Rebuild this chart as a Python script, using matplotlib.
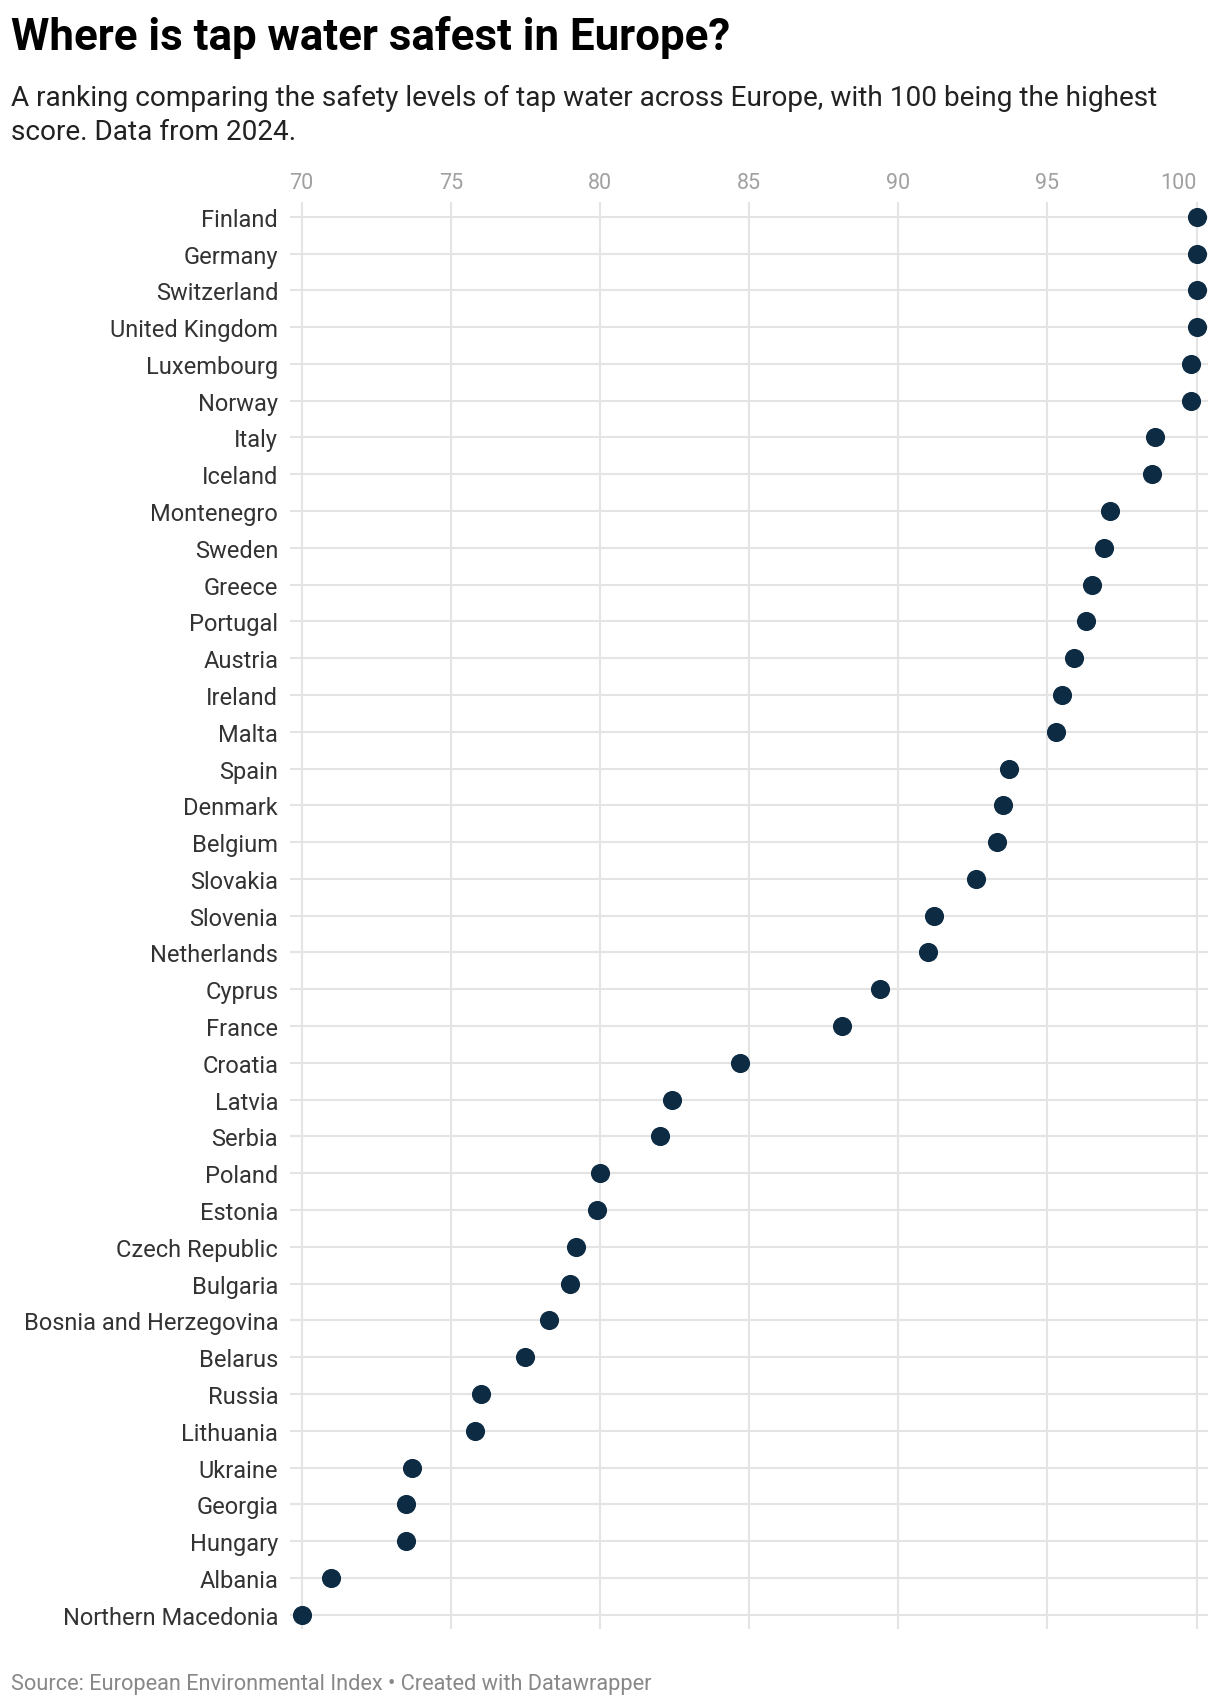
import matplotlib
matplotlib.use("Agg")
import matplotlib.pyplot as plt

countries = ["Finland", "Germany", "Switzerland", "United Kingdom", "Luxembourg", "Norway",
             "Italy", "Iceland", "Montenegro", "Sweden", "Greece", "Portugal", "Austria",
             "Ireland", "Malta", "Spain", "Denmark", "Belgium", "Slovakia", "Slovenia",
             "Netherlands", "Cyprus", "France", "Croatia", "Latvia", "Serbia", "Poland",
             "Estonia", "Czech Republic", "Bulgaria", "Bosnia and Herzegovina", "Belarus",
             "Russia", "Lithuania", "Ukraine", "Georgia", "Hungary", "Albania",
             "Northern Macedonia"]
scores = [100.0, 100.0, 100.0, 100.0, 99.8, 99.8,
          98.6, 98.5, 97.1, 96.9, 96.5, 96.3, 95.9,
          95.5, 95.3, 93.7, 93.5, 93.3, 92.6, 91.2,
          91.0, 89.4, 88.1, 84.7, 82.4, 82.0, 80.0,
          79.9, 79.2, 79.0, 78.3, 77.5,
          76.0, 75.8, 73.7, 73.5, 73.5, 71.0,
          70.0]
xticks = [70, 75, 80, 85, 90, 95, 100]

plt.rcParams['font.family'] = ['Roboto', 'DejaVu Sans']

W, H = 1220, 1708
fig = plt.figure(figsize=(W / 100, H / 100), dpi=100)
fig.patch.set_facecolor('white')

left, right, top, bottom = 290, 1208, 203, 1630
ax = fig.add_axes([left / W, 1 - bottom / H, (right - left) / W, (bottom - top) / H])

n = len(countries)
ypos = list(range(n))
grid_c = '#e4e4e4'
for y in ypos:
    ax.axhline(y, color=grid_c, lw=1.5, zorder=1)
for x in xticks:
    ax.axvline(x, color=grid_c, lw=1.5, zorder=1)

ax.scatter(scores, ypos, s=190, color='#0d2c43', zorder=3, clip_on=False, linewidths=0)

ax.set_xlim(69.61, 100.38)
ax.set_ylim(n - 1 + 0.39, -0.4)
ax.set_xticks(xticks)
ax.set_xticklabels([str(t) for t in xticks])
ax.xaxis.tick_top()
ax.set_yticks(ypos)
ax.set_yticklabels(countries)
ax.tick_params(axis='x', length=0, pad=6.7, labelsize=15.5, labelcolor='#a0a0a0')
ax.tick_params(axis='y', length=0, pad=8.5, labelsize=17, labelcolor='#333333')
ax.get_xticklabels()[-1].set_horizontalalignment('right')
for s in ax.spines.values():
    s.set_visible(False)
ax.set_facecolor('none')

fig.text(11 / W, 1 - 50 / H, "Where is tap water safest in Europe?", fontsize=31.6,
         fontweight='bold', color='#000000', va='baseline', ha='left')
fig.text(11 / W, 1 - 106 / H,
         "A ranking comparing the safety levels of tap water across Europe, with 100 being the highest",
         fontsize=20.15, color='#222222', va='baseline', ha='left')
fig.text(11 / W, 1 - 140 / H, "score. Data from 2024.",
         fontsize=20.15, color='#222222', va='baseline', ha='left')
fig.text(11 / W, 1 - 1690 / H,
         "Source: European Environmental Index \u2022 Created with Datawrapper",
         fontsize=15.7, color='#888888', va='baseline', ha='left')

fig.savefig("out.png", dpi=100, facecolor='white')
